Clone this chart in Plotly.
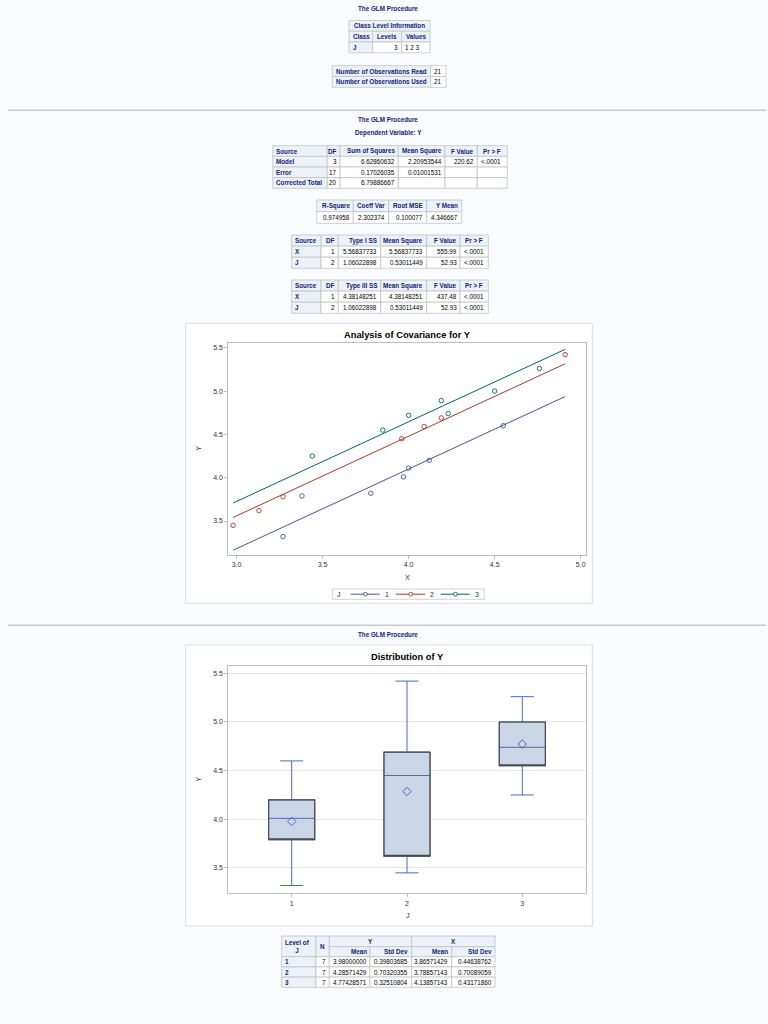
import numpy as np
import plotly.graph_objects as go

W, H = 768, 1024
FONT = "Liberation Sans, Arial, sans-serif"
HDR_BG = "#EDF2F9"
HDR_FG = "#112277"
BORDER = "#C1C1C1"
AXIS = "#BDBDBD"
C1, C2, C3 = "#445694", "#A23A2E", "#01665E"
BOX_FILL = "#CAD5E5"
BOX_BLUE = "#4F6AB4"


def px(x):
    return x / W


def py(y):
    return 1 - y / H


# ---------------- data ----------------
J_levels = [1, 2, 3]
x_j1 = [3.27, 3.38, 3.78, 3.97, 4.00, 4.12, 4.55]
y_j1 = [3.32, 3.79, 3.82, 4.01, 4.11, 4.20, 4.60]
x_j2 = [2.98, 3.13, 3.27, 3.96, 4.09, 4.19, 4.91]
y_j2 = [3.45, 3.62, 3.78, 4.45, 4.59, 4.69, 5.42]
x_j3 = [3.44, 3.85, 4.00, 4.19, 4.23, 4.50, 4.76]
y_j3 = [4.25, 4.55, 4.72, 4.89, 4.74, 5.00, 5.26]

scatter_xticks = [3.0, 3.5, 4.0, 4.5, 5.0]
scatter_xticktext = ["3.0", "3.5", "4.0", "4.5", "5.0"]
yticks = [3.5, 4.0, 4.5, 5.0, 5.5]
yticktext = ["3.5", "4.0", "4.5", "5.0", "5.5"]

# tables
class_header = ["Class", "Levels", "Values"]
class_row = ["J", "3", "1 2 3"]
obs_labels = ["Number of Observations Read", "Number of Observations Used"]
obs_values = ["21", "21"]

anova_header = ["Source", "DF", "Sum of Squares", "Mean Square", "F Value", "Pr > F"]
anova_source = ["Model", "Error", "Corrected Total"]
anova_df = ["3", "17", "20"]
anova_ss = ["6.62860632", "0.17026035", "6.79886667"]
anova_ms = ["2.20953544", "0.01001531", ""]
anova_f = ["220.62", "", ""]
anova_p = ["<.0001", "", ""]

fit_header = ["R-Square", "Coeff Var", "Root MSE", "Y Mean"]
fit_values = ["0.974958", "2.302374", "0.100077", "4.346667"]

type1_header = ["Source", "DF", "Type I SS", "Mean Square", "F Value", "Pr > F"]
type3_header = ["Source", "DF", "Type III SS", "Mean Square", "F Value", "Pr > F"]
effect_source = ["X", "J"]
effect_df = ["1", "2"]
type1_ss = ["5.56837733", "1.06022898"]
type1_ms = ["5.56837733", "0.53011449"]
type1_f = ["555.99", "52.93"]
type1_p = ["<.0001", "<.0001"]
type3_ss = ["4.38148251", "1.06022898"]
type3_ms = ["4.38148251", "0.53011449"]
type3_f = ["437.48", "52.93"]
type3_p = ["<.0001", "<.0001"]

means_levels = ["1", "2", "3"]
means_n = ["7", "7", "7"]
means_y_mean = ["3.98000000", "4.28571429", "4.77428571"]
means_y_sd = ["0.39803685", "0.70320355", "0.32510804"]
means_x_mean = ["3.86571429", "3.78857143", "4.13857143"]
means_x_sd = ["0.44638762", "0.70089059", "0.43171860"]

# ---------------- helpers ----------------
shapes = []
annotations = []
TABLE_FONT = 6.3


def add_text(x, y, text, size=6.2, color="#000000", bold=False, xanchor="center", angle=0):
    annotations.append(dict(
        xref="paper", yref="paper", x=px(x), y=py(y),
        text=("<b>%s</b>" % text) if bold else text,
        showarrow=False, xanchor=xanchor, yanchor="middle", textangle=angle,
        font=dict(family=FONT, size=size, color=color), borderpad=0,
    ))


def add_rect(x0, y0, x1, y1, fill, line, width=1, layer="below"):
    shapes.append(dict(type="rect", xref="paper", yref="paper",
                       x0=px(x0), x1=px(x1), y0=py(y1), y1=py(y0),
                       fillcolor=fill, line=dict(color=line, width=width), layer=layer))


def add_line(x0, y0, x1, y1, color, width=1, layer="above"):
    shapes.append(dict(type="line", xref="paper", yref="paper", x0=px(x0), x1=px(x1),
                       y0=py(y0), y1=py(y1), line=dict(color=color, width=width), layer=layer))


def draw_table(xe, ye, cells):
    for (r, c, rs, cs, text, hdr, align) in cells:
        x0, x1 = xe[c], xe[c + cs]
        y0, y1 = ye[r], ye[r + rs]
        add_rect(x0, y0, x1, y1, HDR_BG if hdr else "#FFFFFF", BORDER, 0.8)
        if not text:
            continue
        ym = (y0 + y1) / 2
        if align == "left":
            xx, anc = x0 + 2.5, "left"
        elif align == "right":
            xx, anc = x1 - 2.5, "right"
        else:
            xx, anc = (x0 + x1) / 2, "center"
        add_text(xx, ym, text, size=TABLE_FONT, color=HDR_FG if hdr else "#000000",
                 bold=hdr, xanchor=anc)


# ---------------- page texts & tables ----------------
add_text(388, 8.5, "The GLM Procedure", size=6.3, color=HDR_FG, bold=True)

cells = [(0, 0, 1, 3, "Class Level Information", True, "center")]
for i, t in enumerate(class_header):
    cells.append((1, i, 1, 1, t, True, "left" if i == 0 else "center"))
cells.append((2, 0, 1, 1, class_row[0], True, "left"))
cells.append((2, 1, 1, 1, class_row[1], False, "right"))
cells.append((2, 2, 1, 1, class_row[2], False, "left"))
draw_table([349, 372.7, 401.7, 430], [20.5, 31.2, 42.0, 52.8], cells)

cells = []
for i, (lab, val) in enumerate(zip(obs_labels, obs_values)):
    cells.append((i, 0, 1, 1, lab, True, "left"))
    cells.append((i, 1, 1, 1, val, False, "left"))
draw_table([332.3, 430.7, 446], [65.7, 76.5, 87.3], cells)

add_line(8, 110.3, 766, 110.3, "#C8C8C8", 1.5)

add_text(388, 119, "The GLM Procedure", size=6.3, color=HDR_FG, bold=True)
add_text(388, 133.3, "Dependent Variable: Y", size=6.3, color=HDR_FG, bold=True)


def effect_table(xe, ye, header, sources, dfs, ss, ms, fv, pv):
    cells = []
    for i, t in enumerate(header):
        al = "left" if i == 0 else ("center" if i == len(header) - 1 else "right")
        cells.append((0, i, 1, 1, t, True, al))
    for r in range(len(sources)):
        cells.append((r + 1, 0, 1, 1, sources[r], True, "left"))
        cells.append((r + 1, 1, 1, 1, dfs[r], False, "right"))
        cells.append((r + 1, 2, 1, 1, ss[r], False, "right"))
        cells.append((r + 1, 3, 1, 1, ms[r], False, "right"))
        cells.append((r + 1, 4, 1, 1, fv[r], False, "right"))
        cells.append((r + 1, 5, 1, 1, pv[r], False, "left"))
    draw_table(xe, ye, cells)


effect_table([272.7, 327.3, 340, 398.3, 445, 477.3, 507.3],
             [145.7, 156.35, 167.0, 177.65, 188.3],
             anova_header, anova_source, anova_df, anova_ss, anova_ms, anova_f, anova_p)

cells = []
for i, t in enumerate(fit_header):
    cells.append((0, i, 1, 1, t, True, "right"))
    cells.append((1, i, 1, 1, fit_values[i], False, "right"))
draw_table([316.7, 353.3, 388.7, 426.7, 461.7], [200, 211.7, 223.3], cells)

xe_eff = [291.7, 321, 338.3, 380.7, 426.7, 460, 488.3]
effect_table(xe_eff, [235, 246.1, 257.2, 268.3], type1_header, effect_source,
             effect_df, type1_ss, type1_ms, type1_f, type1_p)
effect_table(xe_eff, [280, 291.1, 302.2, 313.3], type3_header, effect_source,
             effect_df, type3_ss, type3_ms, type3_f, type3_p)

# graph frames
add_rect(185.7, 323.3, 592.3, 603.3, "#FFFFFF", "#DADADA", 1)
add_rect(185.7, 645, 592.3, 926, "#FFFFFF", "#DADADA", 1)

add_line(8, 625.3, 766, 625.3, "#C8C8C8", 1.5)
add_text(388, 634.3, "The GLM Procedure", size=6.3, color=HDR_FG, bold=True)

# bottom table
cells = [
    (0, 0, 2, 1, "Level of<br>J", True, "left"),
    (0, 1, 2, 1, "N", True, "left"),
    (0, 2, 1, 2, "Y", True, "center"),
    (0, 4, 1, 2, "X", True, "center"),
    (1, 2, 1, 1, "Mean", True, "right"),
    (1, 3, 1, 1, "Std Dev", True, "right"),
    (1, 4, 1, 1, "Mean", True, "right"),
    (1, 5, 1, 1, "Std Dev", True, "right"),
]
for r in range(3):
    cells.append((r + 2, 0, 1, 1, means_levels[r], True, "left"))
    cells.append((r + 2, 1, 1, 1, means_n[r], False, "right"))
    cells.append((r + 2, 2, 1, 1, means_y_mean[r], False, "right"))
    cells.append((r + 2, 3, 1, 1, means_y_sd[r], False, "right"))
    cells.append((r + 2, 4, 1, 1, means_x_mean[r], False, "right"))
    cells.append((r + 2, 5, 1, 1, means_x_sd[r], False, "right"))
draw_table([281.7, 316, 329.3, 370, 411.7, 451.7, 495],
           [936, 946.7, 956.7, 966.9, 977.1, 987.3], cells)

# ---------------- ANCOVA fit ----------------
xs_groups = [x_j1, x_j2, x_j3]
ys_groups = [y_j1, y_j2, y_j3]
colors = [C1, C2, C3]
X_all = np.concatenate([np.array(v) for v in xs_groups])
Y_all = np.concatenate([np.array(v) for v in ys_groups])
G_all = np.concatenate([[j] * len(v) for j, v in zip(J_levels, xs_groups)])
design = np.column_stack([(G_all == j).astype(float) for j in J_levels] + [X_all])
coef, *_ = np.linalg.lstsq(design, Y_all, rcond=None)
x_line = np.array([X_all.min(), X_all.max()])

fig = go.Figure()
for k, (j, xv, yv, col) in enumerate(zip(J_levels, xs_groups, ys_groups, colors)):
    fig.add_trace(go.Scatter(
        x=x_line, y=coef[k] + coef[3] * x_line, mode="lines",
        line=dict(color=col, width=1), showlegend=False, hoverinfo="skip",
        xaxis="x", yaxis="y"))
    fig.add_trace(go.Scatter(
        x=xv, y=yv, mode="markers",
        marker=dict(symbol="circle-open", size=4.5, color=col, line=dict(width=0.9)),
        showlegend=False, xaxis="x", yaxis="y"))

# legend (drawn as a compact SAS-style legend box)
add_rect(332.3, 589, 484.3, 599.3, "#FFFFFF", "#C8C8C8", 0.8, layer="above")
add_text(335.5, 594.2, "J", size=7, color="#333333", xanchor="left")
leg_start = [350.7, 396.0, 440.7]
for j, col, x0 in zip(J_levels, colors, leg_start):
    add_line(x0, 594.2, x0 + 29, 594.2, col, 1)
    shapes.append(dict(type="circle", xref="paper", yref="paper",
                       x0=px(x0 + 12.8), x1=px(x0 + 16.6), y0=py(596.1), y1=py(592.3),
                       line=dict(color=col, width=0.9), fillcolor="#FFFFFF", layer="above"))
    add_text(x0 + 33, 594.2, str(j), size=7, color="#333333", xanchor="left")

# ---------------- box plot ----------------
for j, yv in zip(J_levels, ys_groups):
    fig.add_trace(go.Box(
        y=yv, x0=j, width=0.4, fillcolor=BOX_FILL,
        line=dict(color=BOX_BLUE, width=1), whiskerwidth=0.5,
        quartilemethod="exclusive", boxpoints=False, showlegend=False,
        xaxis="x2", yaxis="y2", hoverinfo="skip"))
for j, yv in zip(J_levels, ys_groups):
    q1 = float(np.percentile(yv, 25, method="weibull"))
    q3 = float(np.percentile(yv, 75, method="weibull"))
    fig.add_trace(go.Box(
        x=[j], q1=[q1], median=[q1], q3=[q3], lowerfence=[q1], upperfence=[q3],
        width=0.4, fillcolor="rgba(0,0,0,0)", whiskerwidth=0,
        line=dict(color="#4A4A4A", width=1.1), showlegend=False,
        xaxis="x2", yaxis="y2", hoverinfo="skip"))
fig.add_trace(go.Scatter(
    x=J_levels, y=[float(np.mean(v)) for v in ys_groups], mode="markers",
    marker=dict(symbol="diamond-open", size=6.5, color=BOX_BLUE, line=dict(width=1)),
    showlegend=False, xaxis="x2", yaxis="y2"))

# chart texts
add_text(407, 335, "Analysis of Covariance for Y", size=9.3, bold=True)
add_text(407.3, 577, "X", size=7.2, color="#333333")
add_text(198.3, 448.5, "Y", size=7.2, color="#333333", angle=-90)
add_text(407.3, 657.3, "Distribution of Y", size=9.3, bold=True)
add_text(407.7, 915, "J", size=7.2, color="#333333")
add_text(198.3, 779.5, "Y", size=7.2, color="#333333", angle=-90)

axis_common = dict(showline=True, mirror=True, linecolor=AXIS, linewidth=1,
                   ticks="outside", ticklen=3, tickcolor=AXIS, zeroline=False,
                   tickfont=dict(family=FONT, size=7, color="#333333"))

fig.update_layout(
    width=W, height=H, autosize=False,
    margin=dict(l=0, r=0, t=0, b=0, pad=0),
    paper_bgcolor="#FAFBFE", plot_bgcolor="#FFFFFF",
    font=dict(family=FONT, size=7, color="#333333"),
    boxmode="overlay", showlegend=False,
    xaxis=dict(domain=[px(228.3), px(585.7)], anchor="y", range=[2.952, 5.029],
               tickvals=scatter_xticks, ticktext=scatter_xticktext, showgrid=False,
               **axis_common),
    yaxis=dict(domain=[py(555), py(343.3)], anchor="x", range=[3.108, 5.551],
               tickvals=yticks, ticktext=yticktext, showgrid=False, **axis_common),
    xaxis2=dict(domain=[px(228.3), px(585.7)], anchor="y2", range=[0.45, 3.55],
                tickvals=J_levels, ticktext=[str(j) for j in J_levels], showgrid=False,
                **axis_common),
    yaxis2=dict(domain=[py(893.3), py(665.7)], anchor="x2", range=[3.24, 5.578],
                tickvals=yticks, ticktext=yticktext, showgrid=True, gridcolor="#E6E6E6",
                **axis_common),
    shapes=shapes, annotations=annotations,
)

fig.write_html("out.html", config={"displayModeBar": False},
               post_script="document.body.style.margin='0';document.body.style.overflow='hidden';")
